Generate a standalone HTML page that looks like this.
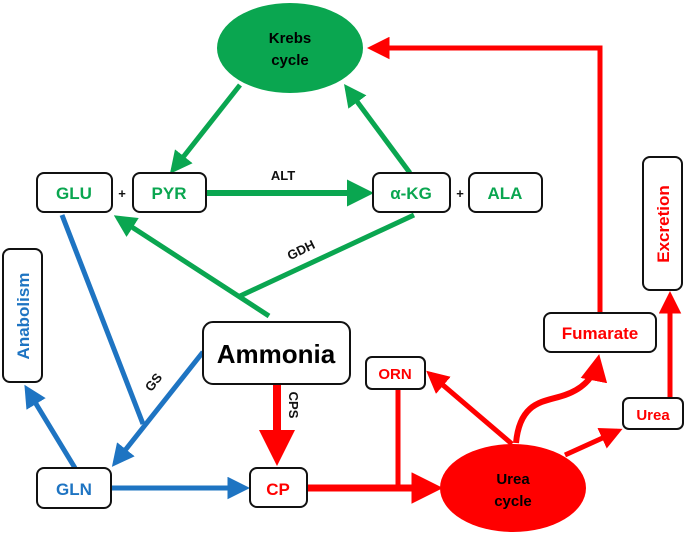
<!DOCTYPE html>
<html><head><meta charset="utf-8"><style>
html,body{margin:0;padding:0;background:#fff;width:685px;height:535px;overflow:hidden}
text{font-family:"Liberation Sans",sans-serif;font-weight:bold}
</style></head><body>
<svg width="685" height="535" viewBox="0 0 685 535" xmlns="http://www.w3.org/2000/svg">
<defs>
<marker id="g" markerWidth="4.5" markerHeight="4.5" refX="3.5" refY="2.25" orient="auto" markerUnits="strokeWidth"><path d="M0,0 L4.5,2.25 L0,4.5z" fill="#0aa650"/></marker>
<marker id="b" markerWidth="4.5" markerHeight="4.5" refX="3.5" refY="2.25" orient="auto" markerUnits="strokeWidth"><path d="M0,0 L4.5,2.25 L0,4.5z" fill="#1e74c2"/></marker>
<marker id="r" markerWidth="4.5" markerHeight="4.5" refX="3.5" refY="2.25" orient="auto" markerUnits="strokeWidth"><path d="M0,0 L4.5,2.25 L0,4.5z" fill="#ff0000"/></marker>
</defs>
<g fill="none" stroke-linecap="butt">
<line x1="240" y1="85" x2="173" y2="170" stroke="#0aa650" stroke-width="5" marker-end="url(#g)"/>
<line x1="410" y1="173" x2="347" y2="88" stroke="#0aa650" stroke-width="5" marker-end="url(#g)"/>
<line x1="206" y1="193" x2="368" y2="193" stroke="#0aa650" stroke-width="6" marker-end="url(#g)"/>
<line x1="414" y1="215" x2="240" y2="296" stroke="#0aa650" stroke-width="5"/>
<line x1="269" y1="316" x2="118" y2="218" stroke="#0aa650" stroke-width="5" marker-end="url(#g)"/>
<line x1="62" y1="215" x2="143" y2="424" stroke="#1e74c2" stroke-width="5"/>
<line x1="203" y1="352" x2="115" y2="463" stroke="#1e74c2" stroke-width="5" marker-end="url(#b)"/>
<line x1="75" y1="468" x2="27" y2="389" stroke="#1e74c2" stroke-width="5" marker-end="url(#b)"/>
<line x1="112" y1="488" x2="245" y2="488" stroke="#1e74c2" stroke-width="5" marker-end="url(#b)"/>
<line x1="277" y1="385" x2="277" y2="458" stroke="#ff0000" stroke-width="8" marker-end="url(#r)"/>
<line x1="307" y1="488" x2="436" y2="488" stroke="#ff0000" stroke-width="7" marker-end="url(#r)"/>
<line x1="398" y1="389" x2="398" y2="488" stroke="#ff0000" stroke-width="5"/>
<line x1="512" y1="444" x2="430" y2="374" stroke="#ff0000" stroke-width="5" marker-end="url(#r)"/>
<path d="M516,443 C520,400 545,402 565,395 C585,388 595,375 598,360" stroke="#ff0000" stroke-width="6" marker-end="url(#r)"/>
<line x1="565" y1="455" x2="618" y2="431" stroke="#ff0000" stroke-width="5" marker-end="url(#r)"/>
<line x1="670" y1="398" x2="670" y2="296" stroke="#ff0000" stroke-width="5" marker-end="url(#r)"/>
<polyline points="600,313 600,48 372,48" stroke="#ff0000" stroke-width="5" marker-end="url(#r)"/>
</g>
<ellipse cx="290" cy="48" rx="73" ry="45" fill="#0aa650"/>
<text x="290" y="43" text-anchor="middle" font-size="15">Krebs</text>
<text x="290" y="65" text-anchor="middle" font-size="15">cycle</text>
<ellipse cx="513" cy="488" rx="73" ry="44" fill="#ff0000"/>
<text x="513" y="484" text-anchor="middle" font-size="15">Urea</text>
<text x="513" y="506" text-anchor="middle" font-size="15">cycle</text>
<g fill="#fff" stroke="#111" stroke-width="2">
<rect x="37" y="173" width="75" height="39" rx="7"/>
<rect x="133" y="173" width="73" height="39" rx="7"/>
<rect x="373" y="173" width="77" height="39" rx="7"/>
<rect x="469" y="173" width="73" height="39" rx="7"/>
<rect x="3" y="249" width="39" height="133" rx="7"/>
<rect x="203" y="322" width="147" height="62" rx="10"/>
<rect x="37" y="468" width="74" height="40" rx="7"/>
<rect x="250" y="468" width="57" height="39" rx="7"/>
<rect x="643" y="157" width="39" height="133" rx="7"/>
<rect x="544" y="313" width="112" height="39" rx="7"/>
<rect x="366" y="357" width="59" height="32" rx="6"/>
<rect x="623" y="398" width="60" height="31" rx="6"/>
</g>
<g font-size="17" text-anchor="middle">
<text x="74" y="199" fill="#0aa650">GLU</text>
<text x="169" y="199" fill="#0aa650">PYR</text>
<text x="411" y="199" fill="#0aa650">α-KG</text>
<text x="505" y="199" fill="#0aa650">ALA</text>
<text x="74" y="495" fill="#1e74c2">GLN</text>
<text x="278" y="495" fill="#ff0000">CP</text>
<text x="600" y="339" fill="#ff0000">Fumarate</text>
<text x="395" y="379" fill="#ff0000" font-size="15">ORN</text>
<text x="653" y="420" fill="#ff0000" font-size="15">Urea</text>
<text x="276" y="363" fill="#000" font-size="26">Ammonia</text>
<text transform="translate(29,316) rotate(-90)" fill="#1e74c2">Anabolism</text>
<text transform="translate(669,224) rotate(-90)" fill="#ff0000">Excretion</text>
</g>
<g font-size="13" fill="#111" text-anchor="middle">
<text x="122" y="198">+</text>
<text x="460" y="198">+</text>
<text x="283" y="180">ALT</text>
<text transform="translate(303,254) rotate(-26)">GDH</text>
<text transform="translate(157,385) rotate(-52)">GS</text>
<text transform="translate(289,405) rotate(90)">CPS</text>
</g>
</svg>
</body></html>
